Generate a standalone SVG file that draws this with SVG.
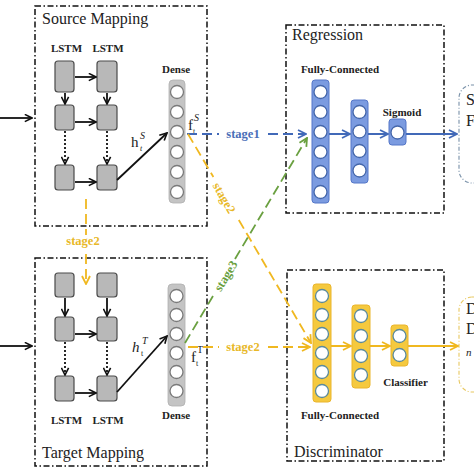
<svg xmlns="http://www.w3.org/2000/svg" width="474" height="474" viewBox="0 0 474 474">
<defs>
<style>
.box{fill:none;stroke:#111;stroke-width:1.5;stroke-dasharray:6 2.5 1.5 2.5}
.title{font-family:"Liberation Serif",serif;font-size:16px;fill:#222}
.lbl{font-family:"Liberation Serif",serif;font-size:11px;font-weight:bold;fill:#222;text-anchor:middle}
.cell{fill:#b8b8b8;stroke:#4a4a4a;stroke-width:1.2}
.dense{fill:#c4c4c4;stroke:#b0b0b0;stroke-width:0.8}
.gc{fill:#fff;stroke:#7a7a7a;stroke-width:1.3}
.blay{fill:#7b9be0;stroke:#5577c8;stroke-width:1}
.bc{fill:#fff;stroke:#4466aa;stroke-width:1.3}
.ylay{fill:#f5c93e;stroke:#eab52c;stroke-width:1}
.yc{fill:#fff;stroke:#5b8a9c;stroke-width:1.3}
.ka{stroke:#111;stroke-width:1.8;fill:none;marker-end:url(#mk)}
.kd{stroke:#111;stroke-width:1.8;fill:none;stroke-dasharray:2 2;marker-end:url(#mk)}
.ba{stroke:#4169b8;stroke-width:2;fill:none;marker-end:url(#mb)}
.bd{stroke:#4169b8;stroke-width:1.8;fill:none;stroke-dasharray:10 5}
.ya{stroke:#f0b820;stroke-width:2;fill:none;marker-end:url(#my)}
.yd{stroke:#f0b820;stroke-width:1.8;fill:none;stroke-dasharray:10 5}
.gd{stroke:#6aa040;stroke-width:1.8;fill:none;stroke-dasharray:10 5}
.st{font-family:"Liberation Serif",serif;font-size:12.5px;font-weight:bold;text-anchor:middle}
.math{font-family:"Liberation Serif",serif;fill:#222}
</style>
<marker id="mk" viewBox="0 0 10 10" refX="9" refY="5" markerUnits="userSpaceOnUse" markerWidth="9" markerHeight="9" orient="auto"><path d="M1,1 L9,5 L1,9" fill="none" stroke="#111" stroke-width="1.8"/></marker>
<marker id="mb" viewBox="0 0 10 10" refX="9" refY="5" markerUnits="userSpaceOnUse" markerWidth="10" markerHeight="10" orient="auto"><path d="M1,1 L9,5 L1,9" fill="none" stroke="#4169b8" stroke-width="1.8"/></marker>
<marker id="my" viewBox="0 0 10 10" refX="9" refY="5" markerUnits="userSpaceOnUse" markerWidth="10" markerHeight="10" orient="auto"><path d="M1,1 L9,5 L1,9" fill="none" stroke="#f0b820" stroke-width="1.8"/></marker>
<marker id="mg" viewBox="0 0 10 10" refX="9" refY="5" markerUnits="userSpaceOnUse" markerWidth="10" markerHeight="10" orient="auto"><path d="M1,1 L9,5 L1,9" fill="none" stroke="#6aa040" stroke-width="1.8"/></marker>
</defs>

<g id="source-mapping">
<rect class="box" x="35" y="6" width="172" height="220"/>
<text class="title" x="42" y="24">Source Mapping</text>
<text class="lbl" x="66.5" y="52">LSTM</text>
<text class="lbl" x="108" y="52">LSTM</text>
<rect class="cell" x="55" y="61" width="19" height="31" rx="3"/>
<rect class="cell" x="97" y="61" width="20" height="31" rx="3"/>
<rect class="cell" x="55" y="105" width="19" height="25" rx="3"/>
<rect class="cell" x="97" y="105" width="20" height="25" rx="3"/>
<rect class="cell" x="55" y="165" width="19" height="25" rx="3"/>
<rect class="cell" x="97" y="165" width="20" height="25" rx="3"/>
<text class="lbl" x="176" y="73">Dense</text>
<rect class="dense" x="169" y="80" width="16" height="123" rx="4"/>
<circle class="gc" cx="177" cy="92" r="6.5"/>
<circle class="gc" cx="177" cy="112" r="6.5"/>
<circle class="gc" cx="177" cy="132" r="6.5"/>
<circle class="gc" cx="177" cy="152" r="6.5"/>
<circle class="gc" cx="177" cy="172" r="6.5"/>
<circle class="gc" cx="177" cy="192" r="6.5"/>
<text class="math" x="131" y="147" font-size="15">h</text>
<text class="math" x="140" y="139" font-size="10" font-style="italic">S</text>
<text class="math" x="140" y="151" font-size="8" font-style="italic">t</text>
<text class="math" x="188" y="130" font-size="15">f</text>
<text class="math" x="194" y="121" font-size="10" font-style="italic">S</text>
<text class="math" x="193" y="134" font-size="8">t</text>
</g>

<g id="target-mapping">
<rect class="box" x="35" y="258" width="172" height="208"/>
<text class="title" x="42" y="458">Target Mapping</text>
<text class="lbl" x="66.5" y="424">LSTM</text>
<text class="lbl" x="108" y="424">LSTM</text>
<rect class="cell" x="55" y="273" width="19" height="24" rx="3"/>
<rect class="cell" x="97" y="273" width="20" height="24" rx="3"/>
<rect class="cell" x="55" y="317" width="19" height="24" rx="3"/>
<rect class="cell" x="97" y="317" width="20" height="24" rx="3"/>
<rect class="cell" x="55" y="376" width="19" height="25" rx="3"/>
<rect class="cell" x="97" y="376" width="20" height="25" rx="3"/>
<text class="lbl" x="176" y="419">Dense</text>
<rect class="dense" x="168" y="284" width="17" height="122" rx="4"/>
<circle class="gc" cx="176.5" cy="296" r="6.5"/>
<circle class="gc" cx="176.5" cy="315" r="6.5"/>
<circle class="gc" cx="176.5" cy="334" r="6.5"/>
<circle class="gc" cx="176.5" cy="353" r="6.5"/>
<circle class="gc" cx="176.5" cy="372" r="6.5"/>
<circle class="gc" cx="176.5" cy="391" r="6.5"/>
<text class="math" x="132" y="352" font-size="15" font-style="italic">h</text>
<text class="math" x="142" y="344" font-size="10" font-style="italic">T</text>
<text class="math" x="141" y="356" font-size="8">t</text>
<text class="math" x="191" y="362" font-size="15">f</text>
<text class="math" x="197" y="353" font-size="10">T</text>
<text class="math" x="196" y="366" font-size="8">t</text>
</g>

<g id="regression">
<rect class="box" x="286" y="25" width="158" height="188"/>
<text class="title" x="292" y="40">Regression</text>
<text class="lbl" x="340" y="73" font-size="11.2">Fully-Connected</text>
<rect class="blay" x="312" y="80" width="17" height="123" rx="3"/>
<circle class="bc" cx="320.5" cy="92" r="6.5"/>
<circle class="bc" cx="320.5" cy="112" r="6.5"/>
<circle class="bc" cx="320.5" cy="132" r="6.5"/>
<circle class="bc" cx="320.5" cy="152" r="6.5"/>
<circle class="bc" cx="320.5" cy="172" r="6.5"/>
<circle class="bc" cx="320.5" cy="192" r="6.5"/>
<rect class="blay" x="351" y="100" width="17" height="83" rx="3"/>
<circle class="bc" cx="359.5" cy="112" r="6.5"/>
<circle class="bc" cx="359.5" cy="131.5" r="6.5"/>
<circle class="bc" cx="359.5" cy="151" r="6.5"/>
<circle class="bc" cx="359.5" cy="170.5" r="6.5"/>
<text class="lbl" x="402" y="116">Sigmoid</text>
<rect class="blay" x="389" y="119" width="17" height="26" rx="3"/>
<circle class="bc" cx="397.5" cy="132.5" r="6.5"/>
</g>

<g id="discriminator">
<rect class="box" x="287" y="270" width="157" height="191"/>
<text class="title" x="294" y="457">Discriminator</text>
<rect class="ylay" x="313" y="284" width="18" height="118" rx="3"/>
<circle class="yc" cx="322" cy="296" r="6.5"/>
<circle class="yc" cx="322" cy="315" r="6.5"/>
<circle class="yc" cx="322" cy="334" r="6.5"/>
<circle class="yc" cx="322" cy="353" r="6.5"/>
<circle class="yc" cx="322" cy="372" r="6.5"/>
<circle class="yc" cx="322" cy="391" r="6.5"/>
<rect class="ylay" x="352" y="305" width="18" height="83" rx="3"/>
<circle class="yc" cx="361" cy="316" r="6.5"/>
<circle class="yc" cx="361" cy="336" r="6.5"/>
<circle class="yc" cx="361" cy="356" r="6.5"/>
<circle class="yc" cx="361" cy="375" r="6.5"/>
<rect class="ylay" x="391" y="325" width="17" height="41" rx="3"/>
<circle class="yc" cx="399.5" cy="336" r="6.5"/>
<circle class="yc" cx="399.5" cy="355" r="6.5"/>
<text class="lbl" x="405.5" y="386">Classifier</text>
<text class="lbl" x="340" y="419" font-size="11.2">Fully-Connected</text>
</g>

<g id="output-regression">
<rect x="459" y="85" width="40" height="98" rx="13" fill="none" stroke="#7890a8" stroke-width="1.1" stroke-dasharray="4 2 1 2"/>
<text class="title" x="466" y="105">S</text>
<text class="title" x="466" y="126">F</text>
</g>

<g id="output-discriminator">
<rect x="459" y="297" width="40" height="95" rx="13" fill="none" stroke="#e8c860" stroke-width="1.1" stroke-dasharray="4 2 1 2"/>
<text class="title" x="466" y="314">D</text>
<text class="title" x="466" y="334">D</text>
<text class="math" x="466" y="356" font-size="11" font-style="italic">n</text>
</g>

<g id="connectors">
<line class="ka" x1="0" y1="118" x2="32" y2="118"/>
<line class="ka" x1="0" y1="346" x2="32" y2="346"/>
<line class="ka" x1="75" y1="77" x2="96" y2="77"/>
<line class="ka" x1="75" y1="122" x2="96" y2="122"/>
<line class="ka" x1="75" y1="182" x2="96" y2="182"/>
<line class="ka" x1="65" y1="93" x2="65" y2="104"/>
<line class="ka" x1="107" y1="93" x2="107" y2="104"/>
<line class="kd" x1="65" y1="131" x2="65" y2="164"/>
<line class="kd" x1="107" y1="131" x2="107" y2="164"/>
<line class="ka" x1="117" y1="180" x2="167" y2="133"/>
<line class="ka" x1="75" y1="334" x2="96" y2="334"/>
<line class="ka" x1="75" y1="393" x2="96" y2="393"/>
<line class="ka" x1="65" y1="298" x2="65" y2="316"/>
<line class="ka" x1="107" y1="298" x2="107" y2="316"/>
<line class="kd" x1="65" y1="342" x2="65" y2="375"/>
<line class="kd" x1="107" y1="342" x2="107" y2="375"/>
<line class="ka" x1="117" y1="392" x2="167" y2="336"/>

<line class="ba" x1="329" y1="134" x2="350" y2="134"/>
<line class="ba" x1="368" y1="134" x2="388" y2="134"/>
<line class="ba" x1="406" y1="134" x2="457" y2="134"/>
<line class="ya" x1="331" y1="346" x2="351" y2="346"/>
<line class="ya" x1="370" y1="346" x2="390" y2="346"/>
<line class="ya" x1="408" y1="346" x2="458" y2="346"/>

<line class="bd" x1="187" y1="134" x2="219" y2="134"/>
<path class="bd" d="M268,134 L306,134" marker-end="url(#mb)"/>
<text class="st" x="243" y="138" fill="#4a6fb8">stage1</text>

<line class="yd" x1="188" y1="134" x2="213.4" y2="177"/>
<path class="yd" d="M238.8,220 L311,343" marker-end="url(#my)"/>
<text class="st" fill="#e8b828" transform="translate(224,198) rotate(60)" x="0" y="4">stage2</text>

<line class="gd" x1="185" y1="343" x2="213" y2="296"/>
<path class="gd" d="M235,259 L307,138" marker-end="url(#mg)"/>
<text class="st" fill="#6aa040" transform="translate(226,276) rotate(-59)" x="0" y="4">stage3</text>

<line class="yd" x1="86" y1="199" x2="86" y2="235"/>
<path class="yd" d="M86,254 L86,284" marker-end="url(#my)"/>
<text class="st" x="83" y="245" fill="#e8b828">stage2</text>

<line class="yd" x1="188" y1="347" x2="219" y2="347"/>
<path class="yd" d="M268,347 L310,347" marker-end="url(#my)"/>
<text class="st" x="243" y="351" fill="#e8b828">stage2</text>
</g>
</svg>
